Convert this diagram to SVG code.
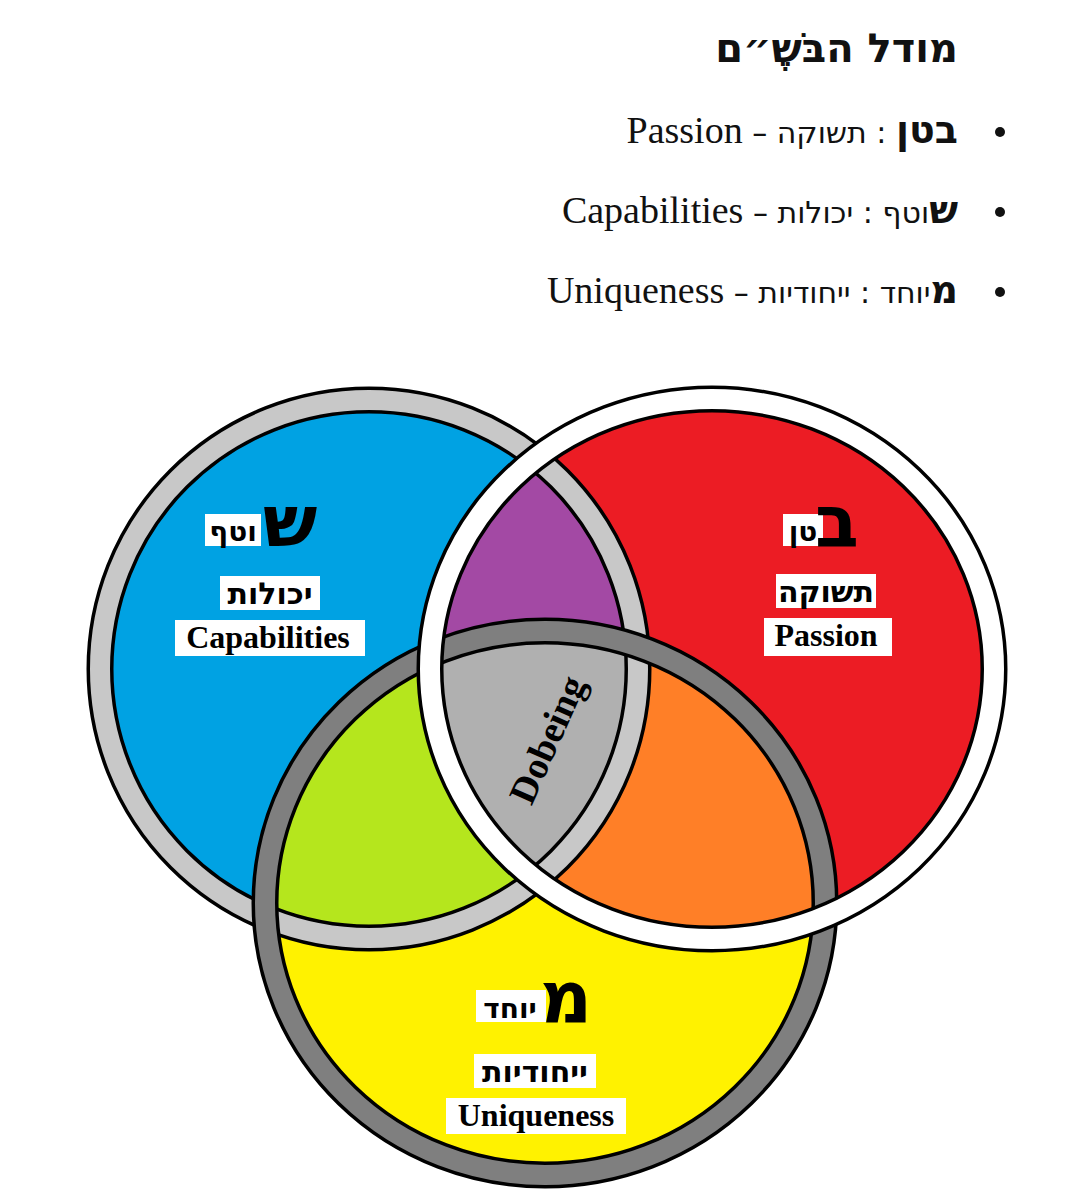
<svg xmlns="http://www.w3.org/2000/svg" width="1080" height="1200" viewBox="0 0 1080 1200">
<style>
.t{font-family:"Liberation Serif","DejaVu Serif",serif;fill:#111}
.h{font-family:"DejaVu Sans","Noto Sans",sans-serif}
.b{font-weight:bold}
.ring{fill:none;stroke:#000;stroke-width:27}
.lbl{font-family:"Liberation Serif","DejaVu Serif",serif;font-weight:bold;fill:#000;text-anchor:middle}
.hl{font-family:"DejaVu Sans","Noto Sans",sans-serif;font-weight:bold;fill:#000;text-anchor:middle}
.bg{fill:#fff}
</style>
<defs>
<clipPath id="cL"><ellipse cx="369" cy="669" rx="259" ry="259"/></clipPath>
<clipPath id="cR"><ellipse cx="712" cy="669" rx="272" ry="260"/></clipPath>
<clipPath id="cB"><ellipse cx="545" cy="903" rx="270" ry="262"/></clipPath>
</defs>
<rect width="1080" height="1200" fill="#fff"/>
<g id="header">
<text class="h b" x="958" y="62" font-size="40" fill="#111" direction="rtl" text-anchor="start">מודל הבּשֶׁ״ם</text>
<circle cx="1000" cy="132" r="5" fill="#111"/>
<circle cx="1000" cy="212" r="5" fill="#111"/>
<circle cx="1000" cy="292" r="5" fill="#111"/>
<text class="t" x="958" y="143" font-size="38" direction="rtl" text-anchor="start"><tspan class="h b" font-size="38">בטן</tspan><tspan class="h" font-size="30"> : תשוקה – </tspan>Passion</text>
<text class="t" x="958" y="223" font-size="38" direction="rtl" text-anchor="start"><tspan class="h b" font-size="38">ש</tspan><tspan class="h" font-size="30">וטף : יכולות – </tspan>Capabilities</text>
<text class="t" x="958" y="303" font-size="38" direction="rtl" text-anchor="start"><tspan class="h b" font-size="38">מ</tspan><tspan class="h" font-size="30">יוחד : ייחודיות – </tspan>Uniqueness</text>
</g>
<g id="fills">
<ellipse cx="369" cy="669" rx="259" ry="259" fill="#00a2e3"/>
<ellipse cx="712" cy="669" rx="272" ry="260" fill="#ec1c24"/>
<ellipse cx="545" cy="903" rx="270" ry="262" fill="#fff200"/>
<g clip-path="url(#cL)"><ellipse cx="712" cy="669" rx="272" ry="260" fill="#a349a4"/></g>
<g clip-path="url(#cL)"><ellipse cx="545" cy="903" rx="270" ry="262" fill="#b5e61d"/></g>
<g clip-path="url(#cR)"><ellipse cx="545" cy="903" rx="270" ry="262" fill="#ff7f27"/></g>
<g clip-path="url(#cL)"><g clip-path="url(#cR)"><ellipse cx="545" cy="903" rx="270" ry="262" fill="#b0b0b0"/></g></g>
</g>
<g id="rings">
<ellipse class="ring" cx="369" cy="669" rx="269" ry="269"/>
<ellipse cx="369" cy="669" rx="269" ry="269" fill="none" stroke="#c8c8c8" stroke-width="20"/>
<ellipse class="ring" cx="545" cy="903" rx="280" ry="272"/>
<ellipse cx="545" cy="903" rx="280" ry="272" fill="none" stroke="#7f7f7f" stroke-width="20"/>
<ellipse class="ring" cx="712" cy="669" rx="282" ry="270"/>
<ellipse cx="712" cy="669" rx="282" ry="270" fill="none" stroke="#fff" stroke-width="20"/>
</g>
<g id="node-shutaf">
<rect class="bg" x="205" y="514" width="56" height="32"/>
<rect class="bg" x="220" y="576" width="100" height="34"/>
<rect class="bg" x="175" y="620" width="190" height="36"/>
<text class="hl" x="290" y="546" font-size="72">ש</text>
<text class="hl" x="233" y="541" font-size="28">וטף</text>
<text class="hl" x="270" y="604" font-size="30">יכולות</text>
<text class="lbl" x="268" y="648" font-size="32">Capabilities</text>
</g>
<g id="node-beten">
<rect class="bg" x="783" y="514" width="40" height="32"/>
<rect class="bg" x="776" y="574" width="100" height="34"/>
<rect class="bg" x="764" y="618" width="128" height="38"/>
<text class="hl" x="837" y="546" font-size="72">ב</text>
<text class="hl" x="803" y="541" font-size="28">טן</text>
<text class="hl" x="826" y="602" font-size="30">תשוקה</text>
<text class="lbl" x="826" y="646" font-size="32">Passion</text>
</g>
<g id="node-meyuchad">
<rect class="bg" x="476" y="990" width="70" height="32"/>
<rect class="bg" x="474" y="1054" width="122" height="34"/>
<rect class="bg" x="446" y="1098" width="180" height="36"/>
<text class="hl" x="566" y="1022" font-size="72">מ</text>
<text class="hl" x="510" y="1018" font-size="28">יוחד</text>
<text class="hl" x="535" y="1082" font-size="30">ייחודיות</text>
<text class="lbl" x="536" y="1126" font-size="32">Uniqueness</text>
</g>
<g id="node-dobeing">
<text class="lbl" transform="translate(548,740) rotate(-66)" font-size="38" dy="12">Dobeing</text>
</g>
</svg>
